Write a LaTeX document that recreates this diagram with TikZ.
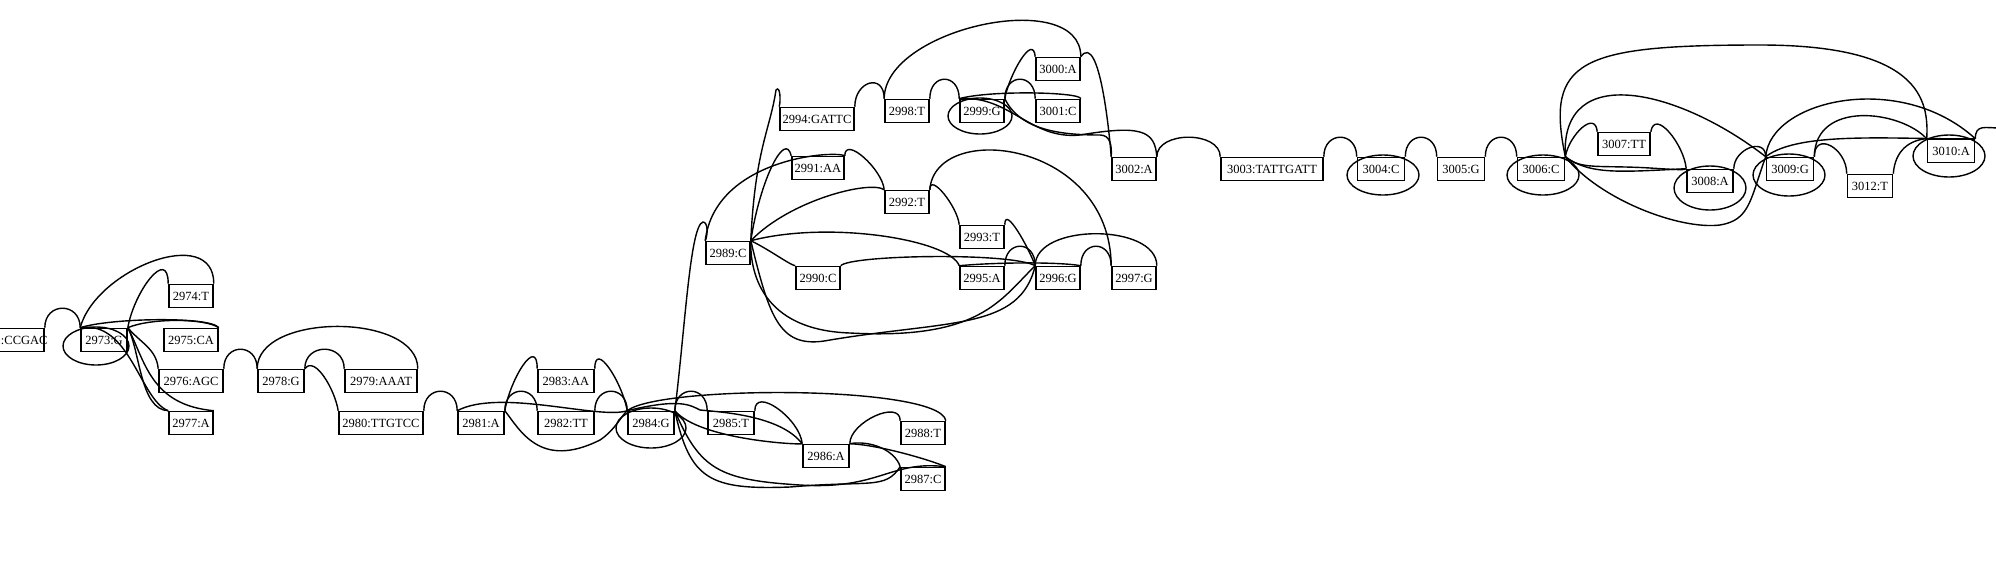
\documentclass[tikz,border=0pt]{standalone}
\usepackage{fontspec}
\setmainfont{Liberation Serif}
\begin{document}
\begin{tikzpicture}[x=1pt,y=1pt,line width=1.4pt,
 box/.style={draw,rectangle,line width=1.6pt,inner sep=0pt,minimum height=23pt,text width=#1,align=center,font=\fontsize{12.5}{13}\selectfont},
 box/.default=40pt,
 ed/.style={line width=1.4pt},
 bump/.style={to path={.. controls +(0,26) and +(0,26) .. (\tikztotarget)}}]
\useasboundingbox (0,0) rectangle (1996,-566);
\node[box=68pt] (a2972) at (10,-340) {2972:CCGAC};
\node[box=46pt] (a2973) at (104,-340) {2973:G};
\node[box=44pt] (a2974) at (191,-296) {2974:T};
\node[box=54pt] (a2975) at (191,-340) {2975:CA};
\node[box=64pt] (a2976) at (191,-381) {2976:AGC};
\node[box=44pt] (a2977) at (191,-423) {2977:A};
\node[box=46pt] (a2978) at (281,-381) {2978:G};
\node[box=72pt] (a2979) at (381,-381) {2979:AAAT};
\node[box=84pt] (a2980) at (381,-423) {2980:TTGTCC};
\node[box=46pt] (a2981) at (481,-423) {2981:A};
\node[box=56pt] (a2983) at (566,-381) {2983:AA};
\node[box=56pt] (a2982) at (566,-423) {2982:TT};
\node[box=46pt] (a2984) at (651,-423) {2984:G};
\node[box=46pt] (a2985) at (731,-423) {2985:T};
\node[box=46pt] (a2986) at (826,-456) {2986:A};
\node[box=44pt] (a2988) at (923,-433) {2988:T};
\node[box=44pt] (a2987) at (923,-479) {2987:C};
\node[box=44pt] (a2989) at (728,-253) {2989:C};
\node[box=44pt] (a2990) at (818,-278) {2990:C};
\node[box=52pt] (a2991) at (818,-168) {2991:AA};
\node[box=44pt] (a2992) at (907,-202) {2992:T};
\node[box=44pt] (a2993) at (982,-237) {2993:T};
\node[box=44pt] (a2995) at (982,-278) {2995:A};
\node[box=44pt] (a2996) at (1058,-278) {2996:G};
\node[box=44pt] (a2997) at (1134,-278) {2997:G};
\node[box=74pt] (a2994) at (817,-119) {2994:GATTC};
\node[box=44pt] (a2998) at (907,-111) {2998:T};
\node[box=44pt] (a2999) at (982,-111) {2999:G};
\node[box=44pt] (a3001) at (1058,-111) {3001:C};
\node[box=44pt] (a3000) at (1058,-69) {3000:A};
\node[box=44pt] (a3002) at (1134,-169) {3002:A};
\node[box=102pt] (a3003) at (1272,-169) {3003:TATTGATT};
\node[box=47pt] (a3004) at (1381,-169) {3004:C};
\node[box=47pt] (a3005) at (1461,-169) {3005:G};
\node[box=47pt] (a3006) at (1541,-169) {3006:C};
\node[box=52pt] (a3007) at (1624,-144) {3007:TT};
\node[box=46pt] (a3008) at (1710,-181) {3008:A};
\node[box=47pt] (a3009) at (1790,-169) {3009:G};
\node[box=45pt] (a3012) at (1870,-186) {3012:T};
\node[box=47pt] (a3010) at (1951,-151) {3010:A};
\coordinate (offr) at (2000,-128);
% self loops
\draw[ed] (96,-346) ellipse (33 and 19);
\draw[ed] (651,-428) ellipse (35 and 20);
\draw[ed] (980,-116) ellipse (32 and 18);
\draw[ed] (1383,-175) ellipse (36 and 20);
\draw[ed] (1543,-175) ellipse (36 and 20);
\draw[ed] (1710,-188) ellipse (36 and 22);
\draw[ed] (1789,-175) ellipse (36 and 21);
\draw[ed] (1949,-156) ellipse (36 and 21);
\begin{scope}[ed]
% left
\draw (a2972.north east) to[bump] (a2973.north west);
\draw (a2973.north west) to[out=75,in=90,looseness=1.1] (a2974.north east);
\draw (a2973.north east) to[out=80,in=90,looseness=1.6] (a2974.north west);
\draw (a2973.north west) .. controls (110,-318) and (210,-316) .. (a2975.north east);
\draw (a2973.north east) .. controls (150,-318) and (205,-318) .. (a2975.north east);
\draw (a2973.north east) to[out=-50,in=95] (a2976.north west);
\draw (a2973.north west) .. controls (130,-320) and (140,-400) .. (a2977.north west);
\draw (a2973.north east) .. controls (140,-350) and (140,-410) .. (a2977.north west);
\draw (a2973.north east) .. controls (145,-360) and (150,-405) .. (a2977.north east);
\draw (a2976.north east) to[bump] (a2978.north west);
\draw (a2978.north west) to[out=90,in=90,looseness=0.9] (a2979.north east);
\draw (a2978.north east) to[bump] (a2979.north west);
\draw (a2978.north east) .. controls (315,-355) and (335,-390) .. (a2980.north west);
\draw (a2980.north east) to[bump] (a2981.north west);
% 2981-2988
\draw (a2981.north east) to[out=80,in=90,looseness=1.6] (a2983.north west);
\draw (a2981.north east) to[bump] (a2982.north west);
\draw (a2981.north west) .. controls (500,-388) and (600,-420) .. (a2984.north west);
\draw (a2981.north east) .. controls (520,-430) and (540,-470) .. (600,-440) .. controls (615,-430) and (622,-415) .. (a2984.north west);
\draw (a2983.north east) to[out=90,in=100,looseness=1.4] (a2984.north west);
\draw (a2982.north east) to[bump] (a2984.north west);
\draw (a2984.north east) to[bump] (a2985.north west);
\draw (a2984.north west) .. controls (660,-385) and (940,-385) .. (a2988.north east);
\draw (a2984.north west) .. controls (680,-398) and (690,-405) .. (700,-410) .. controls (720,-412) and (780,-415) .. (a2986.north west);
\draw (a2984.north east) .. controls (700,-440) and (800,-445) .. (a2986.north west);
\draw (a2985.north east) to[out=90,in=95,looseness=1.1] (a2986.north west);
\draw (a2986.north east) to[out=90,in=90,looseness=1] (a2988.north west);
\draw (a2986.north east) .. controls (880,-445) and (930,-460) .. (a2987.north east);
\draw (a2986.north east) .. controls (870,-440) and (895,-450) .. (a2987.north west);
\draw (a2984.north east) .. controls (700,-470) and (720,-480) .. (800,-485) .. controls (880,-490) and (890,-460) .. (a2987.north east);
\draw (a2984.north east) .. controls (690,-480) and (710,-490) .. (790,-487) .. controls (870,-480) and (885,-490) .. (a2987.north west);
\draw (a2984.north east) .. controls (685,-330) and (690,-225) .. (703,-222) .. controls (708,-222) and (708,-235) .. (a2989.north west);
% 2989 cluster
\draw (a2989.north east) .. controls (755,-150) and (770,-130) .. (776,-90) .. controls (780,-85) and (781,-100) .. (a2994.north west);
\draw (a2989.north west) .. controls (715,-160) and (830,-150) .. (a2991.north east);
\draw (a2989.north east) .. controls (760,-180) and (785,-130) .. (a2991.north west);
\draw (a2989.north east) .. controls (790,-200) and (870,-180) .. (a2992.north west);
\draw (a2989.north east) .. controls (770,-250) and (790,-265) .. (a2990.north west);
\draw (a2989.north east) .. controls (830,-220) and (950,-240) .. (a2995.north west);
\draw (a2989.north east) .. controls (750,-270) and (760,-330) .. (850,-333) .. controls (980,-340) and (1000,-300) .. (a2996.north west);
\draw (a2989.north east) .. controls (770,-320) and (780,-350) .. (830,-340) .. controls (950,-320) and (1020,-330) .. (a2996.north west);
\draw (a2990.north east) .. controls (850,-255) and (1010,-252) .. (a2996.north west);
\draw (a2991.north east) to[out=90,in=95,looseness=1] (a2992.north west);
\draw (a2992.north east) to[out=90,in=95,looseness=1] (a2993.north west);
\draw (a2992.north east) .. controls (935,-120) and (1110,-140) .. (a2997.north west);
\draw (a2993.north east) to[out=90,in=110,looseness=1] (a2996.north west);
\draw (a2995.north east) to[bump] (a2996.north west);
\draw (a2995.north west) .. controls (1000,-262) and (1060,-262) .. (a2996.north east);
\draw (a2996.north east) to[bump] (a2997.north west);
\draw (a2996.north west) to[out=90,in=90,looseness=0.9] (a2997.north east);
% top cluster
\draw (a2994.north east) to[bump] (a2998.north west);
\draw (a2998.north west) to[out=90,in=90,looseness=0.9] (a3000.north east);
\draw (a2998.north east) to[bump] (a2999.north west);
\draw (a2999.north east) to[out=80,in=95,looseness=1.2] (a3000.north west);
\draw (a2999.north east) to[bump] (a3001.north west);
\draw (a2999.north west) .. controls (990,-90) and (1080,-92) .. (a3001.north east);
\draw (a2999.north east) .. controls (1020,-130) and (1060,-135) .. (1100,-135) .. controls (1110,-135) and (1112,-145) .. (a3002.north west);
\draw (a2999.north west) .. controls (1010,-95) and (1030,-140) .. (1080,-135) .. controls (1140,-125) and (1155,-130) .. (a3002.north east);
\draw (a3000.north east) .. controls (1100,-30) and (1110,-140) .. (a3002.north west);
\draw (a3002.north east) to[bump] (a3003.north west);
\draw (a3003.north east) to[bump] (a3004.north west);
\draw (a3004.north east) to[bump] (a3005.north west);
\draw (a3005.north east) to[bump] (a3006.north west);
% right cluster
\draw (a3006.north east) to[out=80,in=95,looseness=1.4] (a3007.north west);
\draw (a3006.north east) .. controls (1580,-170) and (1600,-165) .. (1650,-168) .. controls (1680,-170) and (1685,-170) .. (a3008.north west);
\draw (a3006.north east) .. controls (1590,-175) and (1620,-172) .. (a3008.north west);
\draw (a3006.north east) .. controls (1600,-200) and (1680,-230) .. (1720,-225) .. controls (1750,-220) and (1750,-200) .. (a3009.north west);
\draw (a3006.north east) .. controls (1560,-60) and (1680,-90) .. (a3009.north west);
\draw (a3006.north east) .. controls (1545,-60) and (1580,-45) .. (1760,-45) .. controls (1920,-45) and (1929,-100) .. (a3010.north west);
\draw (a3007.north east) to[out=80,in=95,looseness=1.2] (a3008.north west);
\draw (a3008.north east) to[out=90,in=90,looseness=1.5] (a3009.north west);
\draw (a3009.north west) .. controls (1770,-100) and (1900,-70) .. (a3010.north east);
\draw (a3009.north east) .. controls (1815,-100) and (1900,-110) .. (a3010.north west);
\draw (a3009.north east) to[bump] (a3012.north west);
\draw (a3012.north east) .. controls (1895,-150) and (1910,-140) .. (a3010.north west);
\draw (a3009.north west) .. controls (1800,-130) and (1900,-140) .. (a3010.north east);
\draw (a3010.north east) to[out=90,in=180,looseness=1.4] (offr);
\end{scope}
\end{tikzpicture}
\end{document}
